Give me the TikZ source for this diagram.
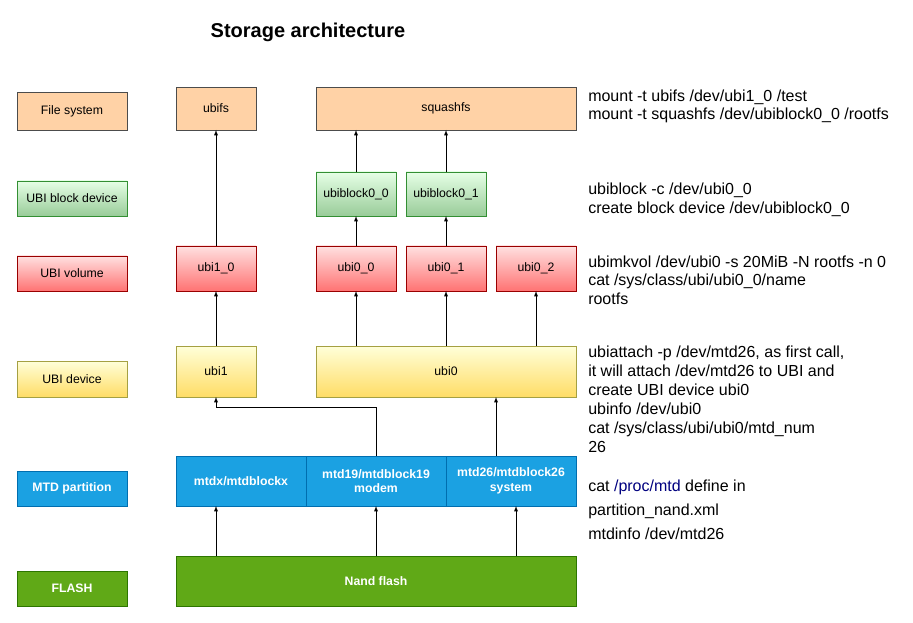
\documentclass[tikz,border=0pt]{standalone}
\usepackage{fontspec}
\setmainfont{Liberation Sans}
\definecolor{mblue}{HTML}{1BA1E2}
\definecolor{mblued}{HTML}{006EAF}
\definecolor{mfl}{HTML}{60A917}
\definecolor{mfld}{HTML}{2D7600}
\begin{document}
\begin{tikzpicture}[x=0.75pt,y=-0.75pt,
 f/.style={font=\fontsize{9.2}{11}\selectfont},
 fb/.style={font=\fontsize{9.2}{11}\selectfont\bfseries,text=white},
 org/.style={fill=orange!35!white,draw=black!70},
 grn/.style={top color=green!10!white,bottom color=green!50!black!40!white,draw=green!45!black!80},
 rd/.style={top color=red!12!white,bottom color=red!55!white,draw=red!60!black},
 yl/.style={top color=yellow!15!white,bottom color=yellow!55!orange!60!white,draw=yellow!60!black},
 bl/.style={fill=mblue,draw=mblued},
 fl/.style={fill=mfl,draw=mfld},
 arr/.style={-latex,thin},
 rt/.style={anchor=base west,font=\fontsize{12}{14}\selectfont,inner sep=0}]
\fill[white] (0,0) rectangle (913,623);
\useasboundingbox (0,0) rectangle (913,623);
\node[font=\fontsize{15}{17}\selectfont\bfseries] (title) at (308,32) {Storage architecture};
% left labels
\path[org] (17,92) rectangle (127,130) node[midway,f] (l1) {File system};
\path[grn] (17,181) rectangle (127,216) node[midway,f] (l2) {UBI block device};
\path[rd] (17,256) rectangle (127,291) node[midway,f] (l3) {UBI volume};
\path[yl] (17,361) rectangle (127,397) node[midway,f] (l4) {UBI device};
\path[bl] (17,471) rectangle (127,506) node[midway,fb] (l5) {MTD partition};
\path[fl] (17,571) rectangle (127,606) node[midway,fb] (l6) {FLASH};
% main boxes
\path[org] (176,87) rectangle (256,130) node[midway,f] (ubifs) {ubifs};
\path[org] (316,87) rectangle (576,130) node[midway,f] (sq) {squashfs};
\path[grn] (316,172) rectangle (396,216) node[midway,f] (b0) {ubiblock0\_0};
\path[grn] (406,172) rectangle (486,216) node[midway,f] (b1) {ubiblock0\_1};
\path[rd] (176,246) rectangle (256,291) node[midway,f] (v10) {ubi1\_0};
\path[rd] (316,246) rectangle (396,291) node[midway,f] (v00) {ubi0\_0};
\path[rd] (406,246) rectangle (486,291) node[midway,f] (v01) {ubi0\_1};
\path[rd] (496,246) rectangle (576,291) node[midway,f] (v02) {ubi0\_2};
\path[yl] (176,346) rectangle (256,397) node[midway,f] (u1) {ubi1};
\path[yl] (316,346) rectangle (576,397) node[midway,f] (u0) {ubi0};
\path[bl] (176,456) rectangle (306,506) node[midway,fb,align=center] (m1) {mtdx/mtdblockx};
\path[bl] (306,456) rectangle (446,506) node[midway,fb,align=center] (m2) {mtd19/mtdblock19\\modem};
\path[bl] (446,456) rectangle (576,506) node[midway,fb,align=center] (m3) {mtd26/mtdblock26\\system};
\path[fl] (176,556) rectangle (576,606) node[midway,fb] (nf) {Nand flash};
% arrows
\draw[arr] (216,246) -- (216,130);
\draw[arr] (356,172) -- (356,130);
\draw[arr] (446,172) -- (446,130);
\draw[arr] (356,246) -- (356,216);
\draw[arr] (446,246) -- (446,216);
\draw[arr] (216,346) -- (216,291);
\draw[arr] (356,346) -- (356,291);
\draw[arr] (446,346) -- (446,291);
\draw[arr] (536,346) -- (536,291);
\draw[arr] (376,456) -- (376,407) -- (216,407) -- (216,397);
\draw[arr] (496,456) -- (496,397);
\draw[arr] (216,556) -- (216,506);
\draw[arr] (376,556) -- (376,506);
\draw[arr] (516,556) -- (516,506);
% right text
\node[rt] (t1) at (588,102) {mount -t ubifs /dev/ubi1\_0 /test};
\node[rt] (t2) at (588,120) {mount -t squashfs /dev/ubiblock0\_0 /rootfs};
\node[rt] (t3) at (588,195) {ubiblock -c /dev/ubi0\_0};
\node[rt] (t4) at (588,214) {create block device /dev/ubiblock0\_0};
\node[rt] (t5) at (588,268) {ubimkvol /dev/ubi0 -s 20MiB -N rootfs -n 0};
\node[rt] (t6) at (588,286) {cat /sys/class/ubi/ubi0\_0/name};
\node[rt] (t7) at (588,305) {rootfs};
\node[rt] (t8) at (588,358) {ubiattach -p /dev/mtd26, as first call,};
\node[rt] (t9) at (588,376) {it will attach /dev/mtd26 to UBI and};
\node[rt] (t10) at (588,395) {create UBI device ubi0};
\node[rt] (t11) at (588,414) {ubinfo /dev/ubi0};
\node[rt] (t12) at (588,433) {cat /sys/class/ubi/ubi0/mtd\_num};
\node[rt] (t13) at (588,452) {26};
\node[rt] (t14) at (588,491) {cat {\color{blue!50!black}/proc/mtd} define in};
\node[rt] (t15) at (588,515) {partition\_nand.xml};
\node[rt] (t16) at (588,539) {mtdinfo /dev/mtd26};
\end{tikzpicture}
\end{document}
